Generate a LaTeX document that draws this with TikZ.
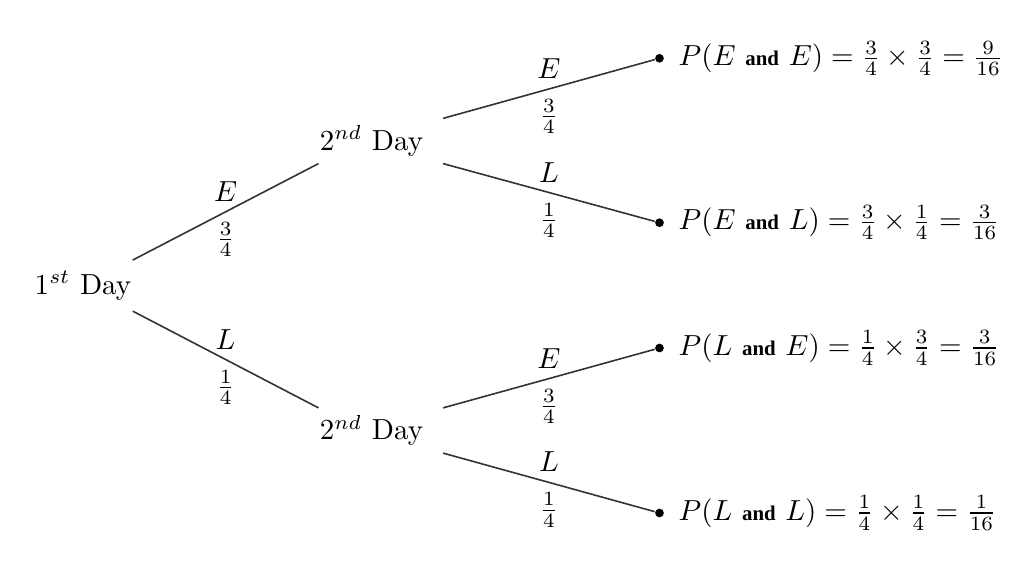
\documentclass[tikz,border=0pt]{standalone}
\usepackage{fontspec}
\usetikzlibrary{positioning}
\newfontfamily\andfont{Liberation Serif}[BoldFont={Liberation Serif Bold}]
\newcommand{\tand}{\mbox{\andfont\bfseries\fontsize{7.2}{8}\selectfont and}}

\begin{document}
\begin{tikzpicture}[x=0.01212cm,y=-0.01212cm,
  day/.style={inner xsep=0.3pt,inner ysep=0pt,minimum height=15.2pt},
  leaf/.style={circle,fill,inner sep=0pt,minimum size=3pt},
  branch/.style={draw=black!80,line width=0.55pt}]
  \useasboundingbox (0,0) rectangle (1024,567);
  \node[day,minimum height=17.2pt] (first) at (83,285.6) {$1^{st}$ Day};
  \node[day] (up) at (371.5,141) {$2^{nd}$ Day};
  \node[day] (down) at (371.5,430.5) {$2^{nd}$ Day};
  % outcomes
  \node[leaf] (ee) at (659.5,58.3) {};
  \node[leaf] (el) at (659.5,222.7) {};
  \node[leaf] (le) at (659.5,348) {};
  \node[leaf] (ll) at (659.5,513) {};
  \node[right=1.4pt of ee] (pee) {$P(E\ \tand\ E)=\frac{3}{4}\times\frac{3}{4}=\frac{9}{16}$};
  \node[right=1.4pt of el] (pel) {$P(E\ \tand\ L)=\frac{3}{4}\times\frac{1}{4}=\frac{3}{16}$};
  \node[right=1.4pt of le] (ple) {$P(L\ \tand\ E)=\frac{1}{4}\times\frac{3}{4}=\frac{3}{16}$};
  \node[right=1.4pt of ll] (pll) {$P(L\ \tand\ L)=\frac{1}{4}\times\frac{1}{4}=\frac{1}{16}$};
  % first day
  \draw[branch] (first.north east) -- (up.south west)
    node[midway,above] {$E$} node[midway,below] {$\frac{3}{4}$};
  \draw[branch] (first.south east) -- (down.north west)
    node[midway,above] {$L$} node[midway,below] {$\frac{1}{4}$};
  % second day
  \draw[branch] ([xshift=6.4pt]up.north east) -- (ee)
    node[midway,above] {$E$} node[midway,below] {$\frac{3}{4}$};
  \draw[branch] ([xshift=6.4pt]up.south east) -- (el)
    node[midway,above] {$L$} node[midway,below] {$\frac{1}{4}$};
  \draw[branch] ([xshift=6.4pt]down.north east) -- (le)
    node[midway,above] {$E$} node[midway,below] {$\frac{3}{4}$};
  \draw[branch] ([xshift=6.4pt]down.south east) -- (ll)
    node[midway,above] {$L$} node[midway,below] {$\frac{1}{4}$};
\end{tikzpicture}
\end{document}
